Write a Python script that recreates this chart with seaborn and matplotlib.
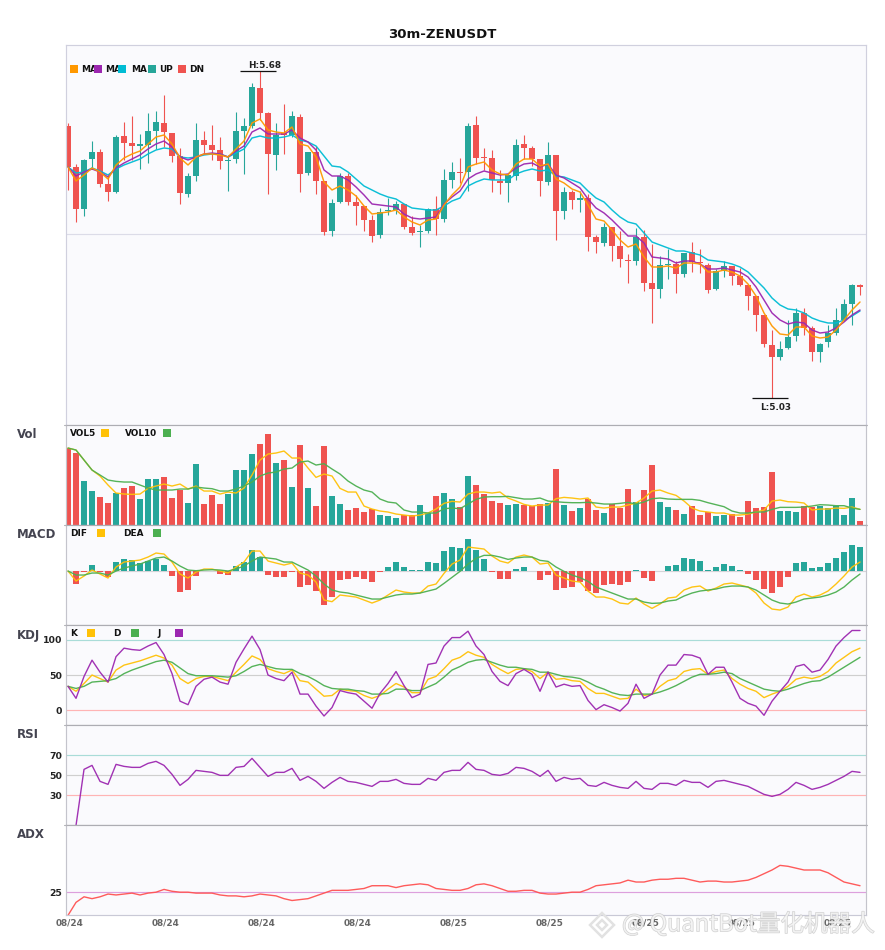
import numpy as np
import pandas as pd
import matplotlib
matplotlib.use("Agg")
import matplotlib.pyplot as plt
import matplotlib.patheffects as pe
from matplotlib.lines import Line2D
from matplotlib.patches import Rectangle, Polygon
import seaborn as sns

# prices in thousandths of a USDT
OPEN = [5570,5488,5404,5504,5518,5454,5438,5550,5536,5530,5532,5560,5576,5556,5510,5434,5470,5542,5532,5522,
        5500,5504,5560,5570,5646,5596,5512,5556,5552,5588,5476,5518,5460,5360,5418,5470,5418,5410,5382,5352,
        5400,5402,5414,5368,5358,5360,5404,5384,5462,5478,5478,5572,5508,5506,5460,5456,5470,5534,5526,5504,
        5458,5512,5400,5438,5422,5426,5348,5336,5368,5330,5302,5300,5348,5256,5244,5292,5294,5274,5318,5298,
        5292,5244,5280,5290,5270,5252,5230,5192,5132,5108,5126,5150,5196,5166,5118,5138,5156,5182,5214,5252]
HIGH = [5576,5494,5504,5540,5524,5472,5552,5578,5590,5554,5596,5600,5632,5556,5526,5476,5576,5560,5572,5548,
        5512,5598,5586,5656,5680,5598,5576,5614,5600,5594,5518,5530,5460,5424,5476,5476,5432,5410,5392,5406,
        5426,5420,5414,5390,5372,5406,5430,5484,5498,5506,5576,5590,5526,5522,5482,5474,5544,5552,5530,5504,
        5538,5512,5448,5442,5440,5434,5352,5376,5368,5360,5314,5366,5362,5334,5310,5324,5300,5316,5338,5324,
        5296,5284,5300,5290,5286,5252,5230,5192,5162,5140,5182,5206,5206,5170,5136,5172,5206,5224,5254,5254]
LOW = [5442,5378,5390,5484,5448,5420,5436,5502,5502,5484,5496,5524,5528,5498,5414,5428,5460,5514,5502,5484,
       5440,5496,5474,5566,5582,5434,5482,5514,5548,5438,5472,5434,5352,5350,5416,5412,5372,5360,5338,5346,
       5392,5394,5364,5352,5328,5356,5352,5378,5446,5456,5440,5494,5482,5438,5434,5418,5462,5504,5490,5430,
       5452,5342,5384,5404,5398,5320,5316,5330,5300,5288,5256,5292,5240,5176,5226,5264,5236,5268,5278,5276,
       5236,5242,5268,5252,5250,5202,5160,5128,5026,5102,5124,5140,5152,5100,5098,5128,5152,5180,5172,5232]
CLOSE = [5488,5404,5502,5518,5454,5438,5548,5536,5530,5534,5560,5578,5558,5510,5436,5470,5542,5532,5522,5500,
         5502,5560,5570,5648,5596,5514,5552,5552,5590,5474,5518,5460,5358,5416,5470,5418,5410,5382,5350,5398,
         5402,5414,5368,5356,5360,5404,5384,5462,5478,5476,5570,5506,5506,5462,5456,5472,5532,5526,5504,5460,
         5512,5400,5438,5422,5426,5348,5338,5368,5330,5304,5300,5348,5256,5244,5292,5294,5274,5316,5298,5296,
         5242,5280,5290,5270,5252,5230,5192,5134,5108,5124,5148,5196,5166,5118,5134,5156,5182,5214,5252,5248]
MA_FAST = [5488,5460,5472,5486,5478,5464,5492,5506,5514,5520,5534,5548,5552,5534,5506,5492,5508,5514,5514,5512,
           5508,5524,5540,5576,5584,5562,5558,5556,5568,5534,5530,5508,5458,5442,5450,5442,5430,5410,5394,5396,
           5398,5402,5388,5378,5372,5382,5384,5412,5432,5448,5488,5494,5498,5482,5474,5472,5494,5504,5504,5490,
           5494,5464,5456,5444,5438,5412,5384,5380,5362,5342,5328,5334,5308,5288,5288,5290,5286,5296,5296,5294,
           5278,5278,5282,5278,5270,5254,5230,5196,5170,5154,5152,5168,5168,5150,5146,5148,5162,5182,5202,5218]
MA_MID = [5488,5470,5478,5484,5478,5468,5486,5496,5504,5512,5524,5534,5540,5528,5508,5502,5508,5514,5516,5514,
          5508,5520,5530,5558,5566,5554,5554,5554,5562,5546,5538,5522,5482,5470,5470,5462,5448,5432,5414,5412,
          5410,5408,5394,5386,5384,5386,5388,5414,5428,5440,5464,5474,5480,5476,5472,5474,5486,5494,5496,5488,
          5494,5472,5466,5456,5446,5424,5406,5396,5382,5366,5350,5350,5336,5308,5306,5304,5296,5300,5300,5294,
          5284,5284,5286,5282,5278,5268,5248,5222,5196,5182,5174,5178,5176,5162,5156,5158,5166,5178,5192,5202]
MA_SLOW = [5488,5476,5478,5486,5480,5472,5484,5492,5498,5504,5514,5522,5526,5524,5508,5506,5508,5512,5514,5514,
           5508,5516,5524,5546,5550,5546,5546,5548,5552,5542,5538,5530,5510,5490,5488,5478,5464,5450,5442,5434,
           5428,5424,5414,5406,5404,5402,5402,5410,5420,5426,5450,5458,5464,5462,5462,5462,5474,5480,5484,5480,
           5482,5470,5468,5462,5456,5440,5426,5418,5402,5388,5378,5374,5356,5338,5332,5326,5320,5320,5316,5312,
           5302,5300,5298,5294,5288,5278,5262,5246,5226,5212,5204,5202,5196,5186,5180,5176,5176,5182,5190,5200]

VOLUME = [230,215,131,101,83,65,95,110,116,77,137,137,143,80,104,65,182,62,89,62,
          92,164,164,212,242,272,185,194,113,239,110,56,236,86,62,44,50,38,47,29,
          26,20,29,29,59,35,86,95,77,53,146,119,92,71,65,59,62,59,56,62,
          65,167,59,41,50,77,44,35,62,50,107,68,104,179,68,53,44,32,56,29,
          38,26,29,32,23,71,50,53,158,41,41,38,56,53,56,50,56,29,80,11]
VOL5 = [230,224,194,164,146,119,95,92,91,92,109,116,122,116,122,107,116,101,101,92,
        98,95,110,149,194,212,215,221,200,200,170,142,152,146,109,98,98,56,47,41,
        38,32,29,26,29,35,47,64,70,68,92,98,98,95,98,80,71,61,56,59,
        59,78,82,80,77,80,53,50,53,53,59,65,80,101,104,95,88,71,50,41,
        38,35,35,29,29,32,38,44,71,74,69,68,65,44,47,47,50,49,53,46]
VOL10 = [230,224,194,164,149,134,130,128,128,119,110,104,104,104,107,107,113,110,108,101,
         101,107,116,128,146,155,158,167,170,188,191,179,183,167,152,131,116,104,98,77,
         68,65,44,38,38,35,35,48,50,48,62,76,83,84,84,85,81,77,77,80,
         71,69,67,66,66,67,65,62,62,64,67,62,68,78,80,77,76,76,76,73,
         66,60,54,41,35,35,38,38,46,52,52,52,53,56,60,59,57,57,50,46]

MACD_HIST = [0,-39,-2,18,-2,-18,27,36,33,24,30,36,18,-15,-63,-57,-15,1,1,-8,
             -12,15,27,63,42,-12,-18,-18,-3,-48,-42,-60,-102,-78,-27,-24,-18,-24,-33,-2,
             12,27,12,3,3,27,24,60,72,69,96,63,36,-2,-24,-24,6,12,0,-27,
             -12,-57,-51,-48,-33,-60,-66,-42,-39,-42,-33,3,-21,-30,0,15,18,39,36,30,
             3,12,21,15,3,-9,-27,-54,-66,-48,-18,24,27,9,12,24,39,57,78,72]
DIF = [0,-30,-15,3,-9,-21,12,27,30,33,42,54,51,27,-9,-21,-3,6,6,0,
       -6,12,27,60,60,30,24,18,24,-6,-12,-33,-87,-92,-72,-75,-78,-87,-96,-87,
       -72,-57,-63,-66,-66,-45,-39,-7,21,33,72,69,66,45,30,24,42,48,42,21,
       24,-12,-21,-30,-33,-60,-78,-78,-84,-96,-99,-81,-99,-112,-99,-81,-78,-57,-48,-45,
       -60,-51,-39,-36,-42,-48,-66,-96,-114,-117,-108,-78,-69,-78,-72,-60,-39,-15,12,27]
DEA = [0,-12,-12,-6,-6,-12,0,9,15,21,30,39,42,30,15,3,1,3,4,3,
       0,6,15,30,42,39,36,27,27,15,3,-15,-39,-57,-63,-66,-72,-78,-84,-84,
       -78,-72,-69,-69,-66,-60,-54,-37,-19,-1,21,38,47,47,42,35,39,42,42,32,
       29,12,-1,-12,-20,-31,-48,-57,-66,-75,-84,-84,-93,-97,-96,-90,-87,-75,-66,-60,
       -57,-54,-48,-45,-45,-48,-57,-72,-87,-96,-99,-93,-84,-81,-78,-72,-63,-48,-27,-9]

KDJ_K = [34,27,38,50,45,40,57,64,67,70,74,78,74,64,45,38,45,48,48,45,
         42,54,65,77,72,59,55,52,57,42,40,30,20,21,30,28,27,21,17,21,
         30,38,33,25,25,44,48,59,71,75,83,78,75,65,58,52,58,59,55,45,
         54,44,45,42,41,31,24,24,20,16,17,30,21,23,34,42,45,55,58,59,
         51,55,57,45,37,31,27,18,23,27,34,44,47,45,48,55,67,75,83,88]
KDJ_D = [34,31,34,40,41,42,45,52,57,61,65,69,71,68,60,52,49,49,49,48,
         47,49,55,62,65,62,59,58,58,52,48,42,35,31,30,30,28,27,23,23,
         24,30,30,28,28,33,38,47,57,62,68,71,72,68,64,61,61,59,58,54,
         54,51,48,47,45,40,34,30,25,22,21,23,23,23,26,30,35,41,47,51,
         51,52,54,52,45,40,35,30,28,27,30,34,38,41,42,47,54,61,68,75]
KDJ_J = [34,17,48,71,54,40,76,88,86,85,91,96,79,52,13,8,34,44,47,40,
         37,68,87,105,86,50,45,42,54,23,23,6,-8,4,28,25,23,13,3,24,
         38,55,35,18,23,65,67,91,103,103,112,91,79,55,41,35,52,58,51,27,
         54,33,37,34,35,14,1,8,4,-1,10,37,17,23,50,64,64,79,78,74,
         51,61,61,40,17,10,6,-7,13,27,40,62,65,54,57,72,91,103,113,113]

RSI = [np.nan,0,56,60,44,41,61,59,58,58,62,64,60,51,40,46,55,54,53,50,
       50,58,59,67,58,49,53,53,57,45,49,44,37,43,48,44,43,41,39,44,
       44,46,42,41,41,47,45,53,55,55,63,56,55,51,50,52,58,57,54,49,
       55,44,48,46,47,40,39,43,40,38,37,44,37,36,42,42,40,45,43,43,
       38,44,45,43,41,39,35,31,29,31,36,43,40,36,38,41,45,49,54,53]
ADX = [0,14,20,18,20,23,22,23,24,22,24,25,28,26,25,25,24,24,24,22,
       21,21,20,21,23,22,21,18,16,17,18,21,24,27,27,27,28,29,32,32,
       32,30,32,33,34,33,29,28,27,27,29,33,34,32,29,26,26,27,27,24,
       23,23,24,25,25,28,32,33,34,35,38,36,36,38,39,39,40,40,38,36,
       37,37,36,36,37,38,41,45,49,54,53,51,49,49,49,46,41,36,34,32]

TICK_LABELS = ["08/24", "08/24", "08/24", "08/24", "08/25", "08/25", "08/25", "08/25", "08/25"]

UP = "#26a69a"
DN = "#ef5350"
FACE = "#fafafd"
W, H = 885, 950

sns.set_theme(style="white")
plt.rcParams["font.family"] = ["DejaVu Sans"]

idx = np.arange(len(CLOSE))
op, hi, lo, cl = [np.array(a) / 1000 for a in (OPEN, HIGH, LOW, CLOSE)]
is_up = cl >= op
candle_dir = np.where(is_up, "up", "dn")
palette = {"up": UP, "dn": DN}

fig = plt.figure(figsize=(W / 100, H / 100), dpi=100, facecolor="white")


def panel(top, bottom, ylim, side="#c4c4cc", edge="#adadb3"):
    ax = fig.add_axes([65.7 / W, 1 - bottom / H, 800 / W, (bottom - top) / H], facecolor=FACE)
    ax.set_xlim(-0.29, 99.71)
    ax.set_ylim(*ylim)
    ax.set_xticks([])
    ax.set_yticks([])
    ax.set_xlabel("")
    ax.set_ylabel("")
    for name, sp in ax.spines.items():
        sp.set_linewidth(0.85)
        sp.set_color(side if name in ("left", "right") else edge)
    return ax


def line(ax, values, color, lw=1.0, alpha=0.95):
    sns.lineplot(x=idx, y=values, color=color, linewidth=lw, alpha=alpha, errorbar=None, ax=ax)
    ax.set_xlabel("")
    ax.set_ylabel("")


def bars(ax, values, groups, xlim=(-0.29, 99.71)):
    df = pd.DataFrame({"i": idx, "v": values, "g": groups})
    sns.barplot(data=df, x="i", y="v", hue="g", palette=palette, native_scale=True, dodge=False,
                width=0.75, saturation=1, errorbar=None, legend=False, linewidth=0, ax=ax)
    ax.set_xlim(*xlim)
    ax.set_xlabel("")
    ax.set_ylabel("")
    ax.set_xticks([])


def level_ticks(ax, levels):
    ax.set_yticks(levels)
    ax.set_yticklabels([str(v) for v in levels], fontsize=6.7, fontweight="bold", color="#222222")
    ax.tick_params(axis="y", length=0, pad=2.5)


def square(x, y, color, z):
    fig.add_artist(Rectangle((x / W, 1 - (y + 8) / H), 8 / W, 8 / H, transform=fig.transFigure,
                             facecolor=color, edgecolor="none", zorder=z))


def label(x, y, s, z=5, size=6.4, color="#111111", **kw):
    fig.text(x / W, 1 - y / H, s, fontsize=size, fontweight="bold", color=color, va="center",
             zorder=z, **kw)


# ---- candles ----
ax_k = panel(45, 424.7, (4.9726, 5.732), side="#d0d0de", edge="#d0d0de")
ax_k.axhline(5.354, color="#dcdce8", lw=0.85, zorder=1)
ax_k.vlines(idx[is_up], lo[is_up], hi[is_up], color=UP, lw=0.8, zorder=1.2)
ax_k.vlines(idx[~is_up], lo[~is_up], hi[~is_up], color=DN, lw=0.8, zorder=1.2)
ax_k.bar(idx, np.abs(cl - op), bottom=np.minimum(op, cl), width=0.75,
         color=np.where(is_up, UP, DN), linewidth=0, zorder=1.5)
for values, color in ((MA_SLOW, "#00bcd4"), (MA_MID, "#9c27b0"), (MA_FAST, "#ff9800")):
    line(ax_k, np.array(values) / 1000, color, lw=1.05, alpha=0.95)
ax_k.set_ylim(4.9726, 5.732)
ax_k.set_xlim(-0.29, 99.71)

i_hi = int(np.argmax(hi))
i_lo = int(np.argmin(lo))
ax_k.hlines(hi[i_hi], i_hi - 2.5, i_hi + 2, color="#111111", lw=0.9, zorder=6)
ax_k.hlines(lo[i_lo], i_lo - 2.5, i_lo + 2, color="#111111", lw=0.9, zorder=6)
ax_k.annotate(f"H:{hi[i_hi]:.2f}", (i_hi + 0.6, hi[i_hi]), xytext=(0, 1), textcoords="offset points",
              ha="center", va="bottom", fontsize=6.4, fontweight="bold", color="#222222")
ax_k.annotate(f"L:{lo[i_lo]:.2f}", (i_lo + 0.45, lo[i_lo]), xytext=(0, -3.5), textcoords="offset points",
              ha="center", va="top", fontsize=6.4, fontweight="bold", color="#222222")

for i, (sx, tx, color, s) in enumerate([(70, 81, "#ff9800", "MA"), (94, 105, "#9c27b0", "MA"),
                                        (118, 131, "#00bcd4", "MA"), (148, 159, UP, "UP"),
                                        (178, 189, DN, "DN")]):
    square(sx, 65, color, 5 + 2 * i)
    label(tx, 69.3, s, z=6 + 2 * i)

# ---- volume ----
ax_v = panel(424.7, 524.7, (0, 300))
bars(ax_v, VOLUME, candle_dir)
line(ax_v, VOL5, "#ffc107")
line(ax_v, VOL10, "#4caf50")
ax_v.set_ylim(0, 300)

# ---- macd ----
ax_m = panel(524.7, 624.7, (-161, 139))
ax_m.axhline(0, color="#d4d4d8", lw=0.85, zorder=0)
bars(ax_m, MACD_HIST, np.where(np.array(MACD_HIST) >= 0, "up", "dn"))
line(ax_m, DIF, "#ffc107")
line(ax_m, DEA, "#4caf50")
ax_m.set_ylim(-161, 139)

# ---- kdj ----
ax_j = panel(624.7, 724.7, (-20.3, 121.2))
ax_j.axhline(100, color="#a9dcd8", lw=0.85)
ax_j.axhline(50, color="#cfcfcf", lw=0.85)
ax_j.axhline(0, color="#ffb4b4", lw=0.85)
line(ax_j, KDJ_K, "#ffc107")
line(ax_j, KDJ_D, "#4caf50")
line(ax_j, KDJ_J, "#9c27b0")
ax_j.set_ylim(-20.3, 121.2)
ax_j.set_xlim(-0.29, 99.71)
ax_j.set_xticks([])
level_ticks(ax_j, [100, 50, 0])

# ---- rsi ----
ax_r = panel(724.7, 824.7, (0.67, 100.67))
ax_r.axhline(70, color="#a9dcd8", lw=0.85)
ax_r.axhline(50, color="#cfcfcf", lw=0.85)
ax_r.axhline(30, color="#ffb4b4", lw=0.85)
line(ax_r, RSI, "#9c27b0")
ax_r.set_ylim(0.67, 100.67)
ax_r.set_xlim(-0.29, 99.71)
ax_r.set_xticks([])
level_ticks(ax_r, [70, 50, 30])

# ---- adx ----
ax_a = panel(824.7, 915.3, (0, 98))
ax_a.spines["bottom"].set_color("#c9c9d6")
ax_a.axhline(25, color="#dda0dd", lw=0.85)
line(ax_a, ADX, "#ff5252")
ax_a.set_ylim(0, 98)
ax_a.set_xlim(-0.29, 99.71)
level_ticks(ax_a, [25])
ax_a.set_xticks(np.arange(len(TICK_LABELS)) * 12 + 0.25)
ax_a.set_xticklabels(TICK_LABELS, fontsize=6.4, fontweight="bold", color="#666666")
ax_a.tick_params(axis="x", length=0, pad=2)

# small stubs where the panels meet
for y in (424.7, 524.7, 624.7, 724.7, 824.7):
    for x0, x1 in ((64.2, 65.7), (865.7, 867.3)):
        fig.add_artist(Line2D([x0 / W, x1 / W], [1 - y / H, 1 - y / H], color="#b4b4ba", lw=0.8))

# ---- panel names and legends ----
fig.text(442.5 / W, 1 - 34.5 / H, "30m-ZENUSDT", ha="center", va="center", fontsize=9.5,
         fontweight="bold", color="#111111")
for name, y in (("Vol", 434.5), ("MACD", 535), ("KDJ", 635), ("RSI", 735), ("ADX", 835)):
    label(17, y, name, size=8.5, color="#444450")

VOL_C, DEA_C = "#ffc107", "#4caf50"
label(70, 434, "VOL5")
square(101, 429, VOL_C, 5)
label(125, 434, "VOL10")
square(163, 429, DEA_C, 5)
label(70, 534, "DIF")
square(97, 529, VOL_C, 5)
label(123, 534, "DEA")
square(153, 529, DEA_C, 5)
label(70, 634, "K")
square(87, 629, VOL_C, 5)
label(113, 634, "D")
square(131, 629, DEA_C, 5)
label(157, 634, "J")
square(175, 629, "#9c27b0", 5)

# ---- watermark ----
for cx, cy, r in ((602, 925, 12), (602, 925, 5)):
    fig.add_artist(Polygon([((cx - r) / W, 1 - cy / H), (cx / W, 1 - (cy - r) / H),
                            ((cx + r) / W, 1 - cy / H), (cx / W, 1 - (cy + r) / H)],
                           closed=True, transform=fig.transFigure, fill=False,
                           edgecolor="#e2e2e2", linewidth=1.8, zorder=20))
wm = fig.text(622 / W, 1 - 924 / H, "@ QuantBot量化机器人", fontsize=17, va="center",
              family=["Noto Sans CJK SC", "DejaVu Sans"], color="#f6f6f6", alpha=0.75, zorder=21)
wm.set_path_effects([pe.withStroke(linewidth=0.9, foreground="#c4c4c4")])

fig.savefig("out.png", dpi=100, facecolor="white")
